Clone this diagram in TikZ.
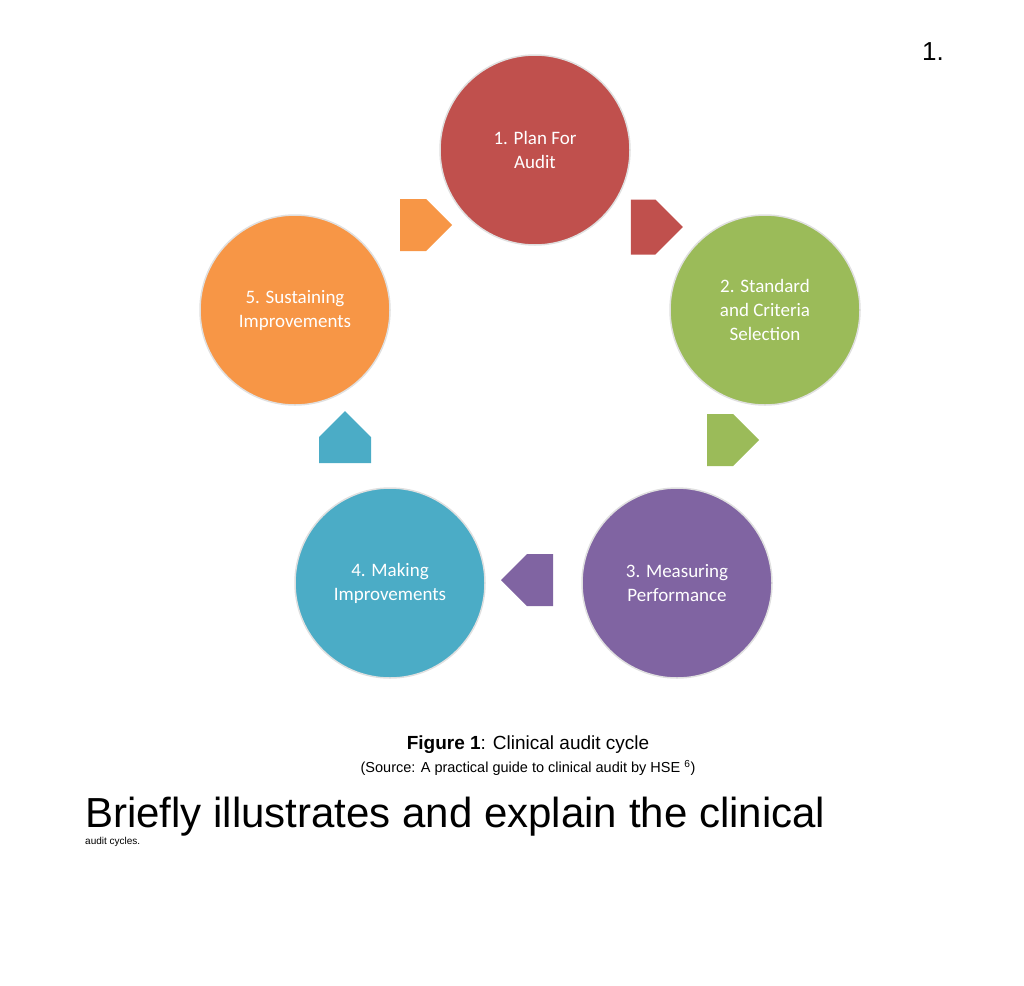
\documentclass[tikz,border=0pt]{standalone}
\usepackage{fontspec}
\setmainfont{Liberation Sans}
\newfontfamily\carlitofont{Carlito}
\usetikzlibrary{shapes.arrows}
\definecolor{cr}{HTML}{C0504D}
\definecolor{cg}{HTML}{9BBB59}
\definecolor{cp}{HTML}{8064A2}
\definecolor{cb}{HTML}{4BACC6}
\definecolor{co}{HTML}{F79646}
\begin{document}
\begin{tikzpicture}[x=1pt,y=-1pt,
  stage/.style={circle,minimum size=190pt,inner sep=0pt,draw=black!12,line width=1.5pt,text=white,align=center,font=\carlitofont\fontsize{19}{24}\selectfont},
  blk/.style={single arrow,draw=none,minimum height=52pt,minimum width=52pt,single arrow head extend=0pt,inner sep=0pt,single arrow head indent=0pt}]
\useasboundingbox (0,0) rectangle (1024,985);
\node[stage,fill=cr] (s1) at (535,150) {1. Plan For\\Audit};
\node[stage,fill=cg] (s2) at (765,310) {2. Standard\\and Criteria\\Selection};
\node[stage,fill=cp] (s3) at (677,583) {3. Measuring\\Performance};
\node[stage,fill=cb] (s4) at (390,583) {4. Making\\Improvements};
\node[stage,fill=co] (s5) at (295,310) {5. Sustaining\\Improvements};
\node[blk,fill=cr,shape border rotate=-40,minimum width=55pt] (a1) at (643,227) {};
\node[blk,fill=cg,shape border rotate=-105] (a2) at (720,440) {};
\node[blk,fill=cp,shape border rotate=180] (a3) at (540,580) {};
\node[blk,fill=cb,shape border rotate=100] (a4) at (345,450) {};
\node[blk,fill=co,shape border rotate=40] (a5) at (413,225) {};
\node (n1) at (933,52) {\fontsize{26}{30}\selectfont 1.};
\node (cap) at (528,745) {\fontsize{19}{22}\selectfont\textbf{Figure 1}: Clinical audit cycle};
\node (src) at (528,768) {\fontsize{14.5}{17}\selectfont (Source: A practical guide to clinical audit by HSE \textsuperscript{6})};
\node[anchor=north west,align=left,inner sep=0pt] (q) at (85,797) {\fontsize{42}{52}\selectfont Briefly illustrates and explain the clinical\\audit cycles.};
\end{tikzpicture}
\end{document}
